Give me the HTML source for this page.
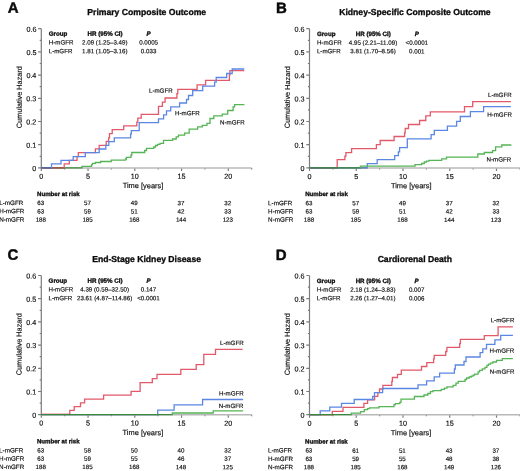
<!DOCTYPE html>
<html><head><meta charset="utf-8"><style>
html,body{margin:0;padding:0;background:#fff;overflow:hidden;}
svg{display:block;font-family:"Liberation Sans", sans-serif;}
text{fill:#0a0a0a;stroke:#0a0a0a;stroke-width:0.15px;}
text[font-weight=bold]{stroke-width:0.3px;}
</style></head><body>
<svg width="520" height="471" viewBox="0 0 520 471" text-rendering="geometricPrecision">
<g style="will-change:transform">

<g style="fill:#fff;stroke:none" font-size="6"><g transform="rotate(5 8 8)"><text x="8" y="8" style="fill:#fff;stroke:none">63</text></g><g transform="rotate(5 8 48)"><text x="8" y="48" style="fill:#fff;stroke:none">63</text></g><g transform="rotate(5 8 88)"><text x="8" y="88" style="fill:#fff;stroke:none">63</text></g><g transform="rotate(5 8 128)"><text x="8" y="128" style="fill:#fff;stroke:none">63</text></g><g transform="rotate(5 8 168)"><text x="8" y="168" style="fill:#fff;stroke:none">63</text></g><g transform="rotate(5 8 208)"><text x="8" y="208" style="fill:#fff;stroke:none">63</text></g><g transform="rotate(5 8 248)"><text x="8" y="248" style="fill:#fff;stroke:none">63</text></g><g transform="rotate(5 8 288)"><text x="8" y="288" style="fill:#fff;stroke:none">63</text></g><g transform="rotate(5 8 328)"><text x="8" y="328" style="fill:#fff;stroke:none">63</text></g><g transform="rotate(5 8 368)"><text x="8" y="368" style="fill:#fff;stroke:none">63</text></g><g transform="rotate(5 8 408)"><text x="8" y="408" style="fill:#fff;stroke:none">63</text></g><g transform="rotate(5 8 448)"><text x="8" y="448" style="fill:#fff;stroke:none">63</text></g><g transform="rotate(5 48 8)"><text x="48" y="8" style="fill:#fff;stroke:none">63</text></g><g transform="rotate(5 48 48)"><text x="48" y="48" style="fill:#fff;stroke:none">63</text></g><g transform="rotate(5 48 88)"><text x="48" y="88" style="fill:#fff;stroke:none">63</text></g><g transform="rotate(5 48 128)"><text x="48" y="128" style="fill:#fff;stroke:none">63</text></g><g transform="rotate(5 48 168)"><text x="48" y="168" style="fill:#fff;stroke:none">63</text></g><g transform="rotate(5 48 208)"><text x="48" y="208" style="fill:#fff;stroke:none">63</text></g><g transform="rotate(5 48 248)"><text x="48" y="248" style="fill:#fff;stroke:none">63</text></g><g transform="rotate(5 48 288)"><text x="48" y="288" style="fill:#fff;stroke:none">63</text></g><g transform="rotate(5 48 328)"><text x="48" y="328" style="fill:#fff;stroke:none">63</text></g><g transform="rotate(5 48 368)"><text x="48" y="368" style="fill:#fff;stroke:none">63</text></g><g transform="rotate(5 48 408)"><text x="48" y="408" style="fill:#fff;stroke:none">63</text></g><g transform="rotate(5 48 448)"><text x="48" y="448" style="fill:#fff;stroke:none">63</text></g><g transform="rotate(5 88 8)"><text x="88" y="8" style="fill:#fff;stroke:none">63</text></g><g transform="rotate(5 88 48)"><text x="88" y="48" style="fill:#fff;stroke:none">63</text></g><g transform="rotate(5 88 88)"><text x="88" y="88" style="fill:#fff;stroke:none">63</text></g><g transform="rotate(5 88 128)"><text x="88" y="128" style="fill:#fff;stroke:none">63</text></g><g transform="rotate(5 88 168)"><text x="88" y="168" style="fill:#fff;stroke:none">63</text></g><g transform="rotate(5 88 208)"><text x="88" y="208" style="fill:#fff;stroke:none">63</text></g><g transform="rotate(5 88 248)"><text x="88" y="248" style="fill:#fff;stroke:none">63</text></g><g transform="rotate(5 88 288)"><text x="88" y="288" style="fill:#fff;stroke:none">63</text></g><g transform="rotate(5 88 328)"><text x="88" y="328" style="fill:#fff;stroke:none">63</text></g><g transform="rotate(5 88 368)"><text x="88" y="368" style="fill:#fff;stroke:none">63</text></g><g transform="rotate(5 88 408)"><text x="88" y="408" style="fill:#fff;stroke:none">63</text></g><g transform="rotate(5 88 448)"><text x="88" y="448" style="fill:#fff;stroke:none">63</text></g><g transform="rotate(5 128 8)"><text x="128" y="8" style="fill:#fff;stroke:none">63</text></g><g transform="rotate(5 128 48)"><text x="128" y="48" style="fill:#fff;stroke:none">63</text></g><g transform="rotate(5 128 88)"><text x="128" y="88" style="fill:#fff;stroke:none">63</text></g><g transform="rotate(5 128 128)"><text x="128" y="128" style="fill:#fff;stroke:none">63</text></g><g transform="rotate(5 128 168)"><text x="128" y="168" style="fill:#fff;stroke:none">63</text></g><g transform="rotate(5 128 208)"><text x="128" y="208" style="fill:#fff;stroke:none">63</text></g><g transform="rotate(5 128 248)"><text x="128" y="248" style="fill:#fff;stroke:none">63</text></g><g transform="rotate(5 128 288)"><text x="128" y="288" style="fill:#fff;stroke:none">63</text></g><g transform="rotate(5 128 328)"><text x="128" y="328" style="fill:#fff;stroke:none">63</text></g><g transform="rotate(5 128 368)"><text x="128" y="368" style="fill:#fff;stroke:none">63</text></g><g transform="rotate(5 128 408)"><text x="128" y="408" style="fill:#fff;stroke:none">63</text></g><g transform="rotate(5 128 448)"><text x="128" y="448" style="fill:#fff;stroke:none">63</text></g><g transform="rotate(5 168 8)"><text x="168" y="8" style="fill:#fff;stroke:none">63</text></g><g transform="rotate(5 168 48)"><text x="168" y="48" style="fill:#fff;stroke:none">63</text></g><g transform="rotate(5 168 88)"><text x="168" y="88" style="fill:#fff;stroke:none">63</text></g><g transform="rotate(5 168 128)"><text x="168" y="128" style="fill:#fff;stroke:none">63</text></g><g transform="rotate(5 168 168)"><text x="168" y="168" style="fill:#fff;stroke:none">63</text></g><g transform="rotate(5 168 208)"><text x="168" y="208" style="fill:#fff;stroke:none">63</text></g><g transform="rotate(5 168 248)"><text x="168" y="248" style="fill:#fff;stroke:none">63</text></g><g transform="rotate(5 168 288)"><text x="168" y="288" style="fill:#fff;stroke:none">63</text></g><g transform="rotate(5 168 328)"><text x="168" y="328" style="fill:#fff;stroke:none">63</text></g><g transform="rotate(5 168 368)"><text x="168" y="368" style="fill:#fff;stroke:none">63</text></g><g transform="rotate(5 168 408)"><text x="168" y="408" style="fill:#fff;stroke:none">63</text></g><g transform="rotate(5 168 448)"><text x="168" y="448" style="fill:#fff;stroke:none">63</text></g><g transform="rotate(5 208 8)"><text x="208" y="8" style="fill:#fff;stroke:none">63</text></g><g transform="rotate(5 208 48)"><text x="208" y="48" style="fill:#fff;stroke:none">63</text></g><g transform="rotate(5 208 88)"><text x="208" y="88" style="fill:#fff;stroke:none">63</text></g><g transform="rotate(5 208 128)"><text x="208" y="128" style="fill:#fff;stroke:none">63</text></g><g transform="rotate(5 208 168)"><text x="208" y="168" style="fill:#fff;stroke:none">63</text></g><g transform="rotate(5 208 208)"><text x="208" y="208" style="fill:#fff;stroke:none">63</text></g><g transform="rotate(5 208 248)"><text x="208" y="248" style="fill:#fff;stroke:none">63</text></g><g transform="rotate(5 208 288)"><text x="208" y="288" style="fill:#fff;stroke:none">63</text></g><g transform="rotate(5 208 328)"><text x="208" y="328" style="fill:#fff;stroke:none">63</text></g><g transform="rotate(5 208 368)"><text x="208" y="368" style="fill:#fff;stroke:none">63</text></g><g transform="rotate(5 208 408)"><text x="208" y="408" style="fill:#fff;stroke:none">63</text></g><g transform="rotate(5 208 448)"><text x="208" y="448" style="fill:#fff;stroke:none">63</text></g><g transform="rotate(5 248 8)"><text x="248" y="8" style="fill:#fff;stroke:none">63</text></g><g transform="rotate(5 248 48)"><text x="248" y="48" style="fill:#fff;stroke:none">63</text></g><g transform="rotate(5 248 88)"><text x="248" y="88" style="fill:#fff;stroke:none">63</text></g><g transform="rotate(5 248 128)"><text x="248" y="128" style="fill:#fff;stroke:none">63</text></g><g transform="rotate(5 248 168)"><text x="248" y="168" style="fill:#fff;stroke:none">63</text></g><g transform="rotate(5 248 208)"><text x="248" y="208" style="fill:#fff;stroke:none">63</text></g><g transform="rotate(5 248 248)"><text x="248" y="248" style="fill:#fff;stroke:none">63</text></g><g transform="rotate(5 248 288)"><text x="248" y="288" style="fill:#fff;stroke:none">63</text></g><g transform="rotate(5 248 328)"><text x="248" y="328" style="fill:#fff;stroke:none">63</text></g><g transform="rotate(5 248 368)"><text x="248" y="368" style="fill:#fff;stroke:none">63</text></g><g transform="rotate(5 248 408)"><text x="248" y="408" style="fill:#fff;stroke:none">63</text></g><g transform="rotate(5 248 448)"><text x="248" y="448" style="fill:#fff;stroke:none">63</text></g><g transform="rotate(5 288 8)"><text x="288" y="8" style="fill:#fff;stroke:none">63</text></g><g transform="rotate(5 288 48)"><text x="288" y="48" style="fill:#fff;stroke:none">63</text></g><g transform="rotate(5 288 88)"><text x="288" y="88" style="fill:#fff;stroke:none">63</text></g><g transform="rotate(5 288 128)"><text x="288" y="128" style="fill:#fff;stroke:none">63</text></g><g transform="rotate(5 288 168)"><text x="288" y="168" style="fill:#fff;stroke:none">63</text></g><g transform="rotate(5 288 208)"><text x="288" y="208" style="fill:#fff;stroke:none">63</text></g><g transform="rotate(5 288 248)"><text x="288" y="248" style="fill:#fff;stroke:none">63</text></g><g transform="rotate(5 288 288)"><text x="288" y="288" style="fill:#fff;stroke:none">63</text></g><g transform="rotate(5 288 328)"><text x="288" y="328" style="fill:#fff;stroke:none">63</text></g><g transform="rotate(5 288 368)"><text x="288" y="368" style="fill:#fff;stroke:none">63</text></g><g transform="rotate(5 288 408)"><text x="288" y="408" style="fill:#fff;stroke:none">63</text></g><g transform="rotate(5 288 448)"><text x="288" y="448" style="fill:#fff;stroke:none">63</text></g><g transform="rotate(5 328 8)"><text x="328" y="8" style="fill:#fff;stroke:none">63</text></g><g transform="rotate(5 328 48)"><text x="328" y="48" style="fill:#fff;stroke:none">63</text></g><g transform="rotate(5 328 88)"><text x="328" y="88" style="fill:#fff;stroke:none">63</text></g><g transform="rotate(5 328 128)"><text x="328" y="128" style="fill:#fff;stroke:none">63</text></g><g transform="rotate(5 328 168)"><text x="328" y="168" style="fill:#fff;stroke:none">63</text></g><g transform="rotate(5 328 208)"><text x="328" y="208" style="fill:#fff;stroke:none">63</text></g><g transform="rotate(5 328 248)"><text x="328" y="248" style="fill:#fff;stroke:none">63</text></g><g transform="rotate(5 328 288)"><text x="328" y="288" style="fill:#fff;stroke:none">63</text></g><g transform="rotate(5 328 328)"><text x="328" y="328" style="fill:#fff;stroke:none">63</text></g><g transform="rotate(5 328 368)"><text x="328" y="368" style="fill:#fff;stroke:none">63</text></g><g transform="rotate(5 328 408)"><text x="328" y="408" style="fill:#fff;stroke:none">63</text></g><g transform="rotate(5 328 448)"><text x="328" y="448" style="fill:#fff;stroke:none">63</text></g><g transform="rotate(5 368 8)"><text x="368" y="8" style="fill:#fff;stroke:none">63</text></g><g transform="rotate(5 368 48)"><text x="368" y="48" style="fill:#fff;stroke:none">63</text></g><g transform="rotate(5 368 88)"><text x="368" y="88" style="fill:#fff;stroke:none">63</text></g><g transform="rotate(5 368 128)"><text x="368" y="128" style="fill:#fff;stroke:none">63</text></g><g transform="rotate(5 368 168)"><text x="368" y="168" style="fill:#fff;stroke:none">63</text></g><g transform="rotate(5 368 208)"><text x="368" y="208" style="fill:#fff;stroke:none">63</text></g><g transform="rotate(5 368 248)"><text x="368" y="248" style="fill:#fff;stroke:none">63</text></g><g transform="rotate(5 368 288)"><text x="368" y="288" style="fill:#fff;stroke:none">63</text></g><g transform="rotate(5 368 328)"><text x="368" y="328" style="fill:#fff;stroke:none">63</text></g><g transform="rotate(5 368 368)"><text x="368" y="368" style="fill:#fff;stroke:none">63</text></g><g transform="rotate(5 368 408)"><text x="368" y="408" style="fill:#fff;stroke:none">63</text></g><g transform="rotate(5 368 448)"><text x="368" y="448" style="fill:#fff;stroke:none">63</text></g><g transform="rotate(5 408 8)"><text x="408" y="8" style="fill:#fff;stroke:none">63</text></g><g transform="rotate(5 408 48)"><text x="408" y="48" style="fill:#fff;stroke:none">63</text></g><g transform="rotate(5 408 88)"><text x="408" y="88" style="fill:#fff;stroke:none">63</text></g><g transform="rotate(5 408 128)"><text x="408" y="128" style="fill:#fff;stroke:none">63</text></g><g transform="rotate(5 408 168)"><text x="408" y="168" style="fill:#fff;stroke:none">63</text></g><g transform="rotate(5 408 208)"><text x="408" y="208" style="fill:#fff;stroke:none">63</text></g><g transform="rotate(5 408 248)"><text x="408" y="248" style="fill:#fff;stroke:none">63</text></g><g transform="rotate(5 408 288)"><text x="408" y="288" style="fill:#fff;stroke:none">63</text></g><g transform="rotate(5 408 328)"><text x="408" y="328" style="fill:#fff;stroke:none">63</text></g><g transform="rotate(5 408 368)"><text x="408" y="368" style="fill:#fff;stroke:none">63</text></g><g transform="rotate(5 408 408)"><text x="408" y="408" style="fill:#fff;stroke:none">63</text></g><g transform="rotate(5 408 448)"><text x="408" y="448" style="fill:#fff;stroke:none">63</text></g><g transform="rotate(5 448 8)"><text x="448" y="8" style="fill:#fff;stroke:none">63</text></g><g transform="rotate(5 448 48)"><text x="448" y="48" style="fill:#fff;stroke:none">63</text></g><g transform="rotate(5 448 88)"><text x="448" y="88" style="fill:#fff;stroke:none">63</text></g><g transform="rotate(5 448 128)"><text x="448" y="128" style="fill:#fff;stroke:none">63</text></g><g transform="rotate(5 448 168)"><text x="448" y="168" style="fill:#fff;stroke:none">63</text></g><g transform="rotate(5 448 208)"><text x="448" y="208" style="fill:#fff;stroke:none">63</text></g><g transform="rotate(5 448 248)"><text x="448" y="248" style="fill:#fff;stroke:none">63</text></g><g transform="rotate(5 448 288)"><text x="448" y="288" style="fill:#fff;stroke:none">63</text></g><g transform="rotate(5 448 328)"><text x="448" y="328" style="fill:#fff;stroke:none">63</text></g><g transform="rotate(5 448 368)"><text x="448" y="368" style="fill:#fff;stroke:none">63</text></g><g transform="rotate(5 448 408)"><text x="448" y="408" style="fill:#fff;stroke:none">63</text></g><g transform="rotate(5 448 448)"><text x="448" y="448" style="fill:#fff;stroke:none">63</text></g><g transform="rotate(5 488 8)"><text x="488" y="8" style="fill:#fff;stroke:none">63</text></g><g transform="rotate(5 488 48)"><text x="488" y="48" style="fill:#fff;stroke:none">63</text></g><g transform="rotate(5 488 88)"><text x="488" y="88" style="fill:#fff;stroke:none">63</text></g><g transform="rotate(5 488 128)"><text x="488" y="128" style="fill:#fff;stroke:none">63</text></g><g transform="rotate(5 488 168)"><text x="488" y="168" style="fill:#fff;stroke:none">63</text></g><g transform="rotate(5 488 208)"><text x="488" y="208" style="fill:#fff;stroke:none">63</text></g><g transform="rotate(5 488 248)"><text x="488" y="248" style="fill:#fff;stroke:none">63</text></g><g transform="rotate(5 488 288)"><text x="488" y="288" style="fill:#fff;stroke:none">63</text></g><g transform="rotate(5 488 328)"><text x="488" y="328" style="fill:#fff;stroke:none">63</text></g><g transform="rotate(5 488 368)"><text x="488" y="368" style="fill:#fff;stroke:none">63</text></g><g transform="rotate(5 488 408)"><text x="488" y="408" style="fill:#fff;stroke:none">63</text></g><g transform="rotate(5 488 448)"><text x="488" y="448" style="fill:#fff;stroke:none">63</text></g></g>
<path d="M41.30 28.70V167.90M38.10 167.90H41.30M39.70 156.30H41.30M38.10 144.70H41.30M39.70 133.10H41.30M38.10 121.50H41.30M39.70 109.90H41.30M38.10 98.30H41.30M39.70 86.70H41.30M38.10 75.10H41.30M39.70 63.50H41.30M38.10 51.90H41.30M39.70 40.30H41.30M38.10 28.70H41.30M41.30 167.90V170.90M64.67 167.90V169.50M88.05 167.90V170.90M111.42 167.90V169.50M134.80 167.90V170.90M158.18 167.90V169.50M181.55 167.90V170.90M204.93 167.90V169.50M228.30 167.90V170.90M251.68 167.90V169.50" stroke="#7c7c7c" stroke-width="1.2" fill="none"/>
<path d="M41.30 167.90H251.68" stroke="#b8b8b8" stroke-width="1.5" fill="none"/>
<path d="M41.30 167.90H82.60" stroke="#3b8a3b" stroke-width="1.3" fill="none"/>
<path d="M81.90 167.90V166.30H91.50V164.70H92.50V163.30H95.40V162.50H100.70V161.50H111.25V160.20H125.50V159.00H126.40V157.30H131.00V155.00H131.80V152.50H144.70V150.50H146.50V148.40H153.80V147.00H155.50V145.50H157.50V144.30H160.00V143.30H163.50V140.30H172.60V139.00H176.20V136.90H178.50V135.10H184.60V133.10H189.20V129.20H197.70V126.90H202.30V125.40H206.90V123.40H210.00V118.50H213.80V115.80H222.30V114.20H227.70V110.50H233.10V106.90H234.60V104.60H244.40V104.60" stroke="#55b455" stroke-width="1.3" fill="none"/>
<path d="M41.30 167.90H64.90" stroke="#b0434e" stroke-width="1.3" fill="none"/>
<path d="M64.20 167.90V163.90H69.30V160.30H77.00V156.60H78.30V152.70H95.40V148.80H99.20V145.40H106.20V141.40H108.60V137.80H109.50V133.70H112.20V129.60H123.70V125.90H136.80V122.10H137.80V118.10H141.20V114.40H158.50V106.30H162.40V102.20H165.10V98.00H176.90V93.70H177.80V89.40H197.10V84.90H205.60V80.30H229.40V74.80H229.90V70.60H244.30V70.60" stroke="#e2596a" stroke-width="1.3" fill="none"/>
<path d="M41.30 167.90H52.20" stroke="#4868b8" stroke-width="1.3" fill="none"/>
<path d="M51.50 167.90V163.90H61.00V160.30H73.20V156.60H85.30V152.70H99.20V149.00H105.80V145.30H108.80V141.60H114.30V137.80H130.60V134.10H131.30V130.60H139.20V122.60H158.50V118.80H163.60V114.90H166.50V110.90H170.70V106.80H179.60V103.00H186.50V99.50H188.50V95.50H192.70V90.70H202.70V86.20H214.60V82.20H216.20V77.50H226.70V73.50H232.20V69.00H244.30V69.00" stroke="#5b87e4" stroke-width="1.3" fill="none"/>
<path d="M309.50 28.70V167.90M306.30 167.90H309.50M307.90 156.30H309.50M306.30 144.70H309.50M307.90 133.10H309.50M306.30 121.50H309.50M307.90 109.90H309.50M306.30 98.30H309.50M307.90 86.70H309.50M306.30 75.10H309.50M307.90 63.50H309.50M306.30 51.90H309.50M307.90 40.30H309.50M306.30 28.70H309.50M309.50 167.90V170.90M332.88 167.90V169.50M356.25 167.90V170.90M379.62 167.90V169.50M403.00 167.90V170.90M426.38 167.90V169.50M449.75 167.90V170.90M473.12 167.90V169.50M496.50 167.90V170.90M519.88 167.90V169.50" stroke="#7c7c7c" stroke-width="1.2" fill="none"/>
<path d="M309.50 167.90H519.88" stroke="#b8b8b8" stroke-width="1.5" fill="none"/>
<path d="M309.50 167.90H337.90" stroke="#b0434e" stroke-width="1.3" fill="none"/>
<path d="M337.20 167.90V159.60H344.90V156.20H345.90V152.70H351.60V148.60H376.40V144.60H380.20V140.50H394.10V136.50H404.60V132.80H405.20V128.50H408.50V124.50H419.60V120.50H425.80V115.80H430.30V111.80H464.50V106.70H472.70V101.70H510.90V101.70" stroke="#e2596a" stroke-width="1.3" fill="none"/>
<path d="M309.50 167.90H368.00" stroke="#4868b8" stroke-width="1.3" fill="none"/>
<path d="M367.30 167.90V163.60H377.20V159.70H394.70V155.60H398.40V151.90H399.60V147.60H407.30V138.90H431.10V134.60H434.30V130.30H447.40V126.10H456.60V121.30H460.30V116.50H470.40V111.60H483.60V106.60H510.90V106.60" stroke="#5b87e4" stroke-width="1.3" fill="none"/>
<path d="M309.50 167.90H361.10" stroke="#3b8a3b" stroke-width="1.3" fill="none"/>
<path d="M360.40 167.90V166.20H415.00V164.60H421.70V163.50H424.30V162.00H426.40V161.20H429.00V160.40H441.70V158.80H446.50V157.20H477.80V154.00H484.30V152.50H492.60V150.60H495.60V146.90H501.80V145.00H511.40V145.00" stroke="#55b455" stroke-width="1.3" fill="none"/>
<path d="M41.30 275.50V414.70M38.10 414.70H41.30M39.70 403.10H41.30M38.10 391.50H41.30M39.70 379.90H41.30M38.10 368.30H41.30M39.70 356.70H41.30M38.10 345.10H41.30M39.70 333.50H41.30M38.10 321.90H41.30M39.70 310.30H41.30M38.10 298.70H41.30M39.70 287.10H41.30M38.10 275.50H41.30M41.30 414.70V417.70M64.67 414.70V416.30M88.05 414.70V417.70M111.42 414.70V416.30M134.80 414.70V417.70M158.18 414.70V416.30M181.55 414.70V417.70M204.93 414.70V416.30M228.30 414.70V417.70M251.68 414.70V416.30" stroke="#7c7c7c" stroke-width="1.2" fill="none"/>
<path d="M41.30 414.70H251.68" stroke="#b8b8b8" stroke-width="1.5" fill="none"/>
<path d="M41.30 414.25H70.50" stroke="#e2596a" stroke-width="1.3" fill="none"/>
<path d="M69.80 414.70V410.40H74.20V406.70H80.50V402.90H84.60V399.10H103.60V395.10H131.10V391.30H140.10V382.60H152.30V378.60H157.00V374.30H180.80V369.40H196.20V364.60H203.80V354.30H215.50V349.30H242.60V349.30" stroke="#e2596a" stroke-width="1.3" fill="none"/>
<path d="M41.30 414.70H158.40" stroke="#4868b8" stroke-width="1.3" fill="none"/>
<path d="M157.70 414.70V410.10H174.10V404.80H202.60V399.50H243.10V399.50" stroke="#5b87e4" stroke-width="1.3" fill="none"/>
<path d="M41.30 414.70H173.00" stroke="#3b8a3b" stroke-width="1.3" fill="none"/>
<path d="M172.30 414.70V413.00H213.20V410.90H243.10V410.90" stroke="#55b455" stroke-width="1.3" fill="none"/>
<path d="M309.50 275.50V414.70M306.30 414.70H309.50M307.90 403.10H309.50M306.30 391.50H309.50M307.90 379.90H309.50M306.30 368.30H309.50M307.90 356.70H309.50M306.30 345.10H309.50M307.90 333.50H309.50M306.30 321.90H309.50M307.90 310.30H309.50M306.30 298.70H309.50M307.90 287.10H309.50M306.30 275.50H309.50M309.50 414.70V417.70M332.88 414.70V416.30M356.25 414.70V417.70M379.62 414.70V416.30M403.00 414.70V417.70M426.38 414.70V416.30M449.75 414.70V417.70M473.12 414.70V416.30M496.50 414.70V417.70M519.88 414.70V416.30" stroke="#7c7c7c" stroke-width="1.2" fill="none"/>
<path d="M309.50 414.70H519.88" stroke="#b8b8b8" stroke-width="1.5" fill="none"/>
<path d="M309.50 414.70H333.00" stroke="#b0434e" stroke-width="1.3" fill="none"/>
<path d="M332.30 414.70V411.30H343.00V407.30H363.90V403.40H367.60V399.80H374.60V396.30H377.80V392.60H379.50V389.00H382.90V385.30H391.80V381.30H392.40V377.50H397.50V374.30H401.30V370.20H421.50V366.50H426.80V362.70H433.60V358.90H434.20V355.30H445.70V351.50H446.90V347.40H459.70V343.60H460.40V339.40H484.30V335.70H498.10V326.80H512.90V326.80" stroke="#e2596a" stroke-width="1.3" fill="none"/>
<path d="M309.50 414.70H320.90" stroke="#4868b8" stroke-width="1.3" fill="none"/>
<path d="M320.20 414.70V410.80H329.80V407.10H341.50V403.30H354.20V399.50H372.70V396.50H374.50V392.60H382.60V388.50H418.00V384.80H426.60V380.80H434.20V376.90H439.60V373.10H454.40V369.00H455.30V365.00H464.00V361.50H466.00V357.00H480.10V352.70H482.80V348.80H486.50V344.40H494.90V339.80H500.70V335.40H512.90V335.40" stroke="#5b87e4" stroke-width="1.3" fill="none"/>
<path d="M309.50 414.70H352.00" stroke="#3b8a3b" stroke-width="1.3" fill="none"/>
<path d="M351.30 414.70V413.10H360.60V411.70H364.30V409.70H367.50V408.60H369.50V407.80H379.00V406.60H394.00V404.60H395.40V403.60H399.80V402.30H401.00V399.10H414.40V396.50H424.00V395.00H427.80V393.50H430.40V391.60H433.00V390.70H441.20V389.40H444.40V388.20H447.00V386.90H453.20V385.30H456.00V383.20H458.20V381.30H465.00V379.50H466.60V378.00H469.20V377.00H471.20V376.20H473.10V375.20H474.60V374.20H478.10V371.90H479.60V370.40H482.30V368.80H485.00V367.30H486.90V365.40H488.50V364.20H490.50V363.10H492.80V362.00H496.50V360.40H502.30V358.60H512.90V358.60" stroke="#55b455" stroke-width="1.3" fill="none"/>
<g transform="rotate(0.03 260 235)">
<text x="7.60" y="12.90" font-size="15.0" font-weight="bold" style="stroke-width:0.45px">A</text>
<text x="146.60" y="15.00" font-size="8.65" text-anchor="middle" font-weight="bold">Primary Composite Outcome</text>
<text x="48.60" y="35.90" font-size="6.2" font-weight="bold">Group</text>
<text x="105.00" y="35.90" font-size="6.2" text-anchor="middle" font-weight="bold">HR (95% CI)</text>
<text x="148.50" y="35.90" font-size="6.2" text-anchor="middle" font-weight="bold" font-style="italic">P</text>
<text x="48.60" y="44.60" font-size="6.2">H-mGFR</text>
<text x="104.70" y="44.60" font-size="6.2" text-anchor="middle">2.09 (1.25–3.49)</text>
<text x="148.50" y="44.60" font-size="6.2" text-anchor="middle">0.0005</text>
<text x="48.60" y="53.30" font-size="6.2">L-mGFR</text>
<text x="104.70" y="53.30" font-size="6.2" text-anchor="middle">1.81 (1.05–3.16)</text>
<text x="148.50" y="53.30" font-size="6.2" text-anchor="middle">0.033</text>
<text x="148.90" y="92.80" font-size="6.2">L-mGFR</text>
<text x="174.90" y="115.40" font-size="6.2">H-mGFR</text>
<text x="220.00" y="124.50" font-size="6.2">N-mGFR</text>
<text x="36.30" y="171.00" font-size="7.2" text-anchor="end">0</text>
<text x="36.30" y="147.80" font-size="7.2" text-anchor="end">0.1</text>
<text x="36.30" y="124.60" font-size="7.2" text-anchor="end">0.2</text>
<text x="36.30" y="101.40" font-size="7.2" text-anchor="end">0.3</text>
<text x="36.30" y="78.20" font-size="7.2" text-anchor="end">0.4</text>
<text x="36.30" y="55.00" font-size="7.2" text-anchor="end">0.5</text>
<text x="36.30" y="31.80" font-size="7.2" text-anchor="end">0.6</text>
<text x="41.30" y="178.90" font-size="7.2" text-anchor="middle">0</text>
<text x="88.05" y="178.90" font-size="7.2" text-anchor="middle">5</text>
<text x="134.80" y="178.90" font-size="7.2" text-anchor="middle">10</text>
<text x="181.55" y="178.90" font-size="7.2" text-anchor="middle">15</text>
<text x="228.30" y="178.90" font-size="7.2" text-anchor="middle">20</text>
<text x="143.00" y="188.20" font-size="7.45" text-anchor="middle">Time [years]</text>
<text x="0" y="0" font-size="7.3" text-anchor="middle" transform="translate(21.60,97.30) rotate(-90)">Cumulative Hazard</text>
<text x="37.00" y="196.00" font-size="6.1" font-weight="bold">Number at risk</text>
<text x="-0.80" y="205.20" font-size="6.3">L-mGFR</text>
<text x="40.80" y="205.20" font-size="6.2" text-anchor="middle">63</text>
<text x="87.55" y="205.20" font-size="6.2" text-anchor="middle">57</text>
<text x="134.30" y="205.20" font-size="6.2" text-anchor="middle">49</text>
<text x="181.05" y="205.20" font-size="6.2" text-anchor="middle">37</text>
<text x="227.80" y="205.20" font-size="6.2" text-anchor="middle">32</text>
<text x="-0.80" y="213.50" font-size="6.3">H-mGFR</text>
<text x="40.80" y="213.50" font-size="6.2" text-anchor="middle">63</text>
<text x="87.55" y="213.50" font-size="6.2" text-anchor="middle">59</text>
<text x="134.30" y="213.50" font-size="6.2" text-anchor="middle">51</text>
<text x="181.05" y="213.50" font-size="6.2" text-anchor="middle">42</text>
<text x="227.80" y="213.50" font-size="6.2" text-anchor="middle">33</text>
<text x="-0.80" y="221.80" font-size="6.3">N-mGFR</text>
<text x="40.80" y="221.80" font-size="6.2" text-anchor="middle">188</text>
<text x="87.55" y="221.80" font-size="6.2" text-anchor="middle">185</text>
<text x="134.30" y="221.80" font-size="6.2" text-anchor="middle">168</text>
<text x="181.05" y="221.80" font-size="6.2" text-anchor="middle">144</text>
<text x="227.80" y="221.80" font-size="6.2" text-anchor="middle">123</text>
<text x="275.80" y="12.90" font-size="15.0" font-weight="bold" style="stroke-width:0.45px">B</text>
<text x="414.80" y="15.00" font-size="8.65" text-anchor="middle" font-weight="bold">Kidney-Specific Composite Outcome</text>
<text x="316.80" y="35.90" font-size="6.2" font-weight="bold">Group</text>
<text x="373.20" y="35.90" font-size="6.2" text-anchor="middle" font-weight="bold">HR (95% CI)</text>
<text x="416.70" y="35.90" font-size="6.2" text-anchor="middle" font-weight="bold" font-style="italic">P</text>
<text x="316.80" y="44.60" font-size="6.2">H-mGFR</text>
<text x="372.90" y="44.60" font-size="6.2" text-anchor="middle">4.95 (2.21–11.09)</text>
<text x="416.70" y="44.60" font-size="6.2" text-anchor="middle">&lt;0.0001</text>
<text x="316.80" y="53.30" font-size="6.2">L-mGFR</text>
<text x="372.90" y="53.30" font-size="6.2" text-anchor="middle">3.81 (1.70–8.56)</text>
<text x="416.70" y="53.30" font-size="6.2" text-anchor="middle">0.001</text>
<text x="487.90" y="96.80" font-size="6.2">L-mGFR</text>
<text x="487.10" y="116.70" font-size="6.2">H-mGFR</text>
<text x="486.50" y="161.50" font-size="6.2">N-mGFR</text>
<text x="304.50" y="171.00" font-size="7.2" text-anchor="end">0</text>
<text x="304.50" y="147.80" font-size="7.2" text-anchor="end">0.1</text>
<text x="304.50" y="124.60" font-size="7.2" text-anchor="end">0.2</text>
<text x="304.50" y="101.40" font-size="7.2" text-anchor="end">0.3</text>
<text x="304.50" y="78.20" font-size="7.2" text-anchor="end">0.4</text>
<text x="304.50" y="55.00" font-size="7.2" text-anchor="end">0.5</text>
<text x="304.50" y="31.80" font-size="7.2" text-anchor="end">0.6</text>
<text x="309.50" y="178.90" font-size="7.2" text-anchor="middle">0</text>
<text x="356.25" y="178.90" font-size="7.2" text-anchor="middle">5</text>
<text x="403.00" y="178.90" font-size="7.2" text-anchor="middle">10</text>
<text x="449.75" y="178.90" font-size="7.2" text-anchor="middle">15</text>
<text x="496.50" y="178.90" font-size="7.2" text-anchor="middle">20</text>
<text x="411.20" y="188.20" font-size="7.45" text-anchor="middle">Time [years]</text>
<text x="0" y="0" font-size="7.3" text-anchor="middle" transform="translate(289.80,97.30) rotate(-90)">Cumulative Hazard</text>
<text x="305.20" y="196.00" font-size="6.1" font-weight="bold">Number at risk</text>
<text x="268.10" y="205.20" font-size="6.3">L-mGFR</text>
<text x="309.00" y="205.20" font-size="6.2" text-anchor="middle">63</text>
<text x="355.75" y="205.20" font-size="6.2" text-anchor="middle">57</text>
<text x="402.50" y="205.20" font-size="6.2" text-anchor="middle">49</text>
<text x="449.25" y="205.20" font-size="6.2" text-anchor="middle">37</text>
<text x="496.00" y="205.20" font-size="6.2" text-anchor="middle">32</text>
<text x="268.10" y="213.50" font-size="6.3">H-mGFR</text>
<text x="309.00" y="213.50" font-size="6.2" text-anchor="middle">63</text>
<text x="355.75" y="213.50" font-size="6.2" text-anchor="middle">59</text>
<text x="402.50" y="213.50" font-size="6.2" text-anchor="middle">51</text>
<text x="449.25" y="213.50" font-size="6.2" text-anchor="middle">42</text>
<text x="496.00" y="213.50" font-size="6.2" text-anchor="middle">33</text>
<text x="268.10" y="221.80" font-size="6.3">N-mGFR</text>
<text x="309.00" y="221.80" font-size="6.2" text-anchor="middle">188</text>
<text x="355.75" y="221.80" font-size="6.2" text-anchor="middle">185</text>
<text x="402.50" y="221.80" font-size="6.2" text-anchor="middle">168</text>
<text x="449.25" y="221.80" font-size="6.2" text-anchor="middle">144</text>
<text x="496.00" y="221.80" font-size="6.2" text-anchor="middle">123</text>
<text x="7.60" y="259.90" font-size="15.0" font-weight="bold" style="stroke-width:0.45px">C</text>
<text x="146.60" y="262.00" font-size="8.65" text-anchor="middle" font-weight="bold">End-Stage Kidney Disease</text>
<text x="48.60" y="282.90" font-size="6.2" font-weight="bold">Group</text>
<text x="105.00" y="282.90" font-size="6.2" text-anchor="middle" font-weight="bold">HR (95% CI)</text>
<text x="148.50" y="282.90" font-size="6.2" text-anchor="middle" font-weight="bold" font-style="italic">P</text>
<text x="48.60" y="291.60" font-size="6.2">H-mGFR</text>
<text x="104.70" y="291.60" font-size="6.2" text-anchor="middle">4.39 (0.59–32.50)</text>
<text x="148.50" y="291.60" font-size="6.2" text-anchor="middle">0.147</text>
<text x="48.60" y="300.30" font-size="6.2">L-mGFR</text>
<text x="104.70" y="300.30" font-size="6.2" text-anchor="middle">23.61 (4.87–114.86)</text>
<text x="148.50" y="300.30" font-size="6.2" text-anchor="middle">&lt;0.0001</text>
<text x="220.00" y="345.00" font-size="6.2">L-mGFR</text>
<text x="219.10" y="395.60" font-size="6.2">H-mGFR</text>
<text x="218.80" y="408.10" font-size="6.2">N-mGFR</text>
<text x="36.30" y="417.80" font-size="7.2" text-anchor="end">0</text>
<text x="36.30" y="394.60" font-size="7.2" text-anchor="end">0.1</text>
<text x="36.30" y="371.40" font-size="7.2" text-anchor="end">0.2</text>
<text x="36.30" y="348.20" font-size="7.2" text-anchor="end">0.3</text>
<text x="36.30" y="325.00" font-size="7.2" text-anchor="end">0.4</text>
<text x="36.30" y="301.80" font-size="7.2" text-anchor="end">0.5</text>
<text x="36.30" y="278.60" font-size="7.2" text-anchor="end">0.6</text>
<text x="41.30" y="425.70" font-size="7.2" text-anchor="middle">0</text>
<text x="88.05" y="425.70" font-size="7.2" text-anchor="middle">5</text>
<text x="134.80" y="425.70" font-size="7.2" text-anchor="middle">10</text>
<text x="181.55" y="425.70" font-size="7.2" text-anchor="middle">15</text>
<text x="228.30" y="425.70" font-size="7.2" text-anchor="middle">20</text>
<text x="143.00" y="435.20" font-size="7.45" text-anchor="middle">Time [years]</text>
<text x="0" y="0" font-size="7.3" text-anchor="middle" transform="translate(21.60,344.30) rotate(-90)">Cumulative Hazard</text>
<text x="37.00" y="443.40" font-size="6.1" font-weight="bold">Number at risk</text>
<text x="-0.80" y="452.60" font-size="6.3">L-mGFR</text>
<text x="40.80" y="452.60" font-size="6.2" text-anchor="middle">63</text>
<text x="87.55" y="452.60" font-size="6.2" text-anchor="middle">58</text>
<text x="134.30" y="452.60" font-size="6.2" text-anchor="middle">50</text>
<text x="181.05" y="452.60" font-size="6.2" text-anchor="middle">40</text>
<text x="227.80" y="452.60" font-size="6.2" text-anchor="middle">32</text>
<text x="-0.80" y="460.90" font-size="6.3">H-mGFR</text>
<text x="40.80" y="460.90" font-size="6.2" text-anchor="middle">63</text>
<text x="87.55" y="460.90" font-size="6.2" text-anchor="middle">59</text>
<text x="134.30" y="460.90" font-size="6.2" text-anchor="middle">55</text>
<text x="181.05" y="460.90" font-size="6.2" text-anchor="middle">46</text>
<text x="227.80" y="460.90" font-size="6.2" text-anchor="middle">37</text>
<text x="-0.80" y="469.20" font-size="6.3">N-mGFR</text>
<text x="40.80" y="469.20" font-size="6.2" text-anchor="middle">188</text>
<text x="87.55" y="469.20" font-size="6.2" text-anchor="middle">185</text>
<text x="134.30" y="469.20" font-size="6.2" text-anchor="middle">168</text>
<text x="181.05" y="469.20" font-size="6.2" text-anchor="middle">148</text>
<text x="227.80" y="469.20" font-size="6.2" text-anchor="middle">125</text>
<text x="275.80" y="259.90" font-size="15.0" font-weight="bold" style="stroke-width:0.45px">D</text>
<text x="414.80" y="262.00" font-size="8.65" text-anchor="middle" font-weight="bold">Cardiorenal Death</text>
<text x="316.80" y="282.90" font-size="6.2" font-weight="bold">Group</text>
<text x="373.20" y="282.90" font-size="6.2" text-anchor="middle" font-weight="bold">HR (95% CI)</text>
<text x="416.70" y="282.90" font-size="6.2" text-anchor="middle" font-weight="bold" font-style="italic">P</text>
<text x="316.80" y="291.60" font-size="6.2">H-mGFR</text>
<text x="372.90" y="291.60" font-size="6.2" text-anchor="middle">2.18 (1.24–3.83)</text>
<text x="416.70" y="291.60" font-size="6.2" text-anchor="middle">0.007</text>
<text x="316.80" y="300.30" font-size="6.2">L-mGFR</text>
<text x="372.90" y="300.30" font-size="6.2" text-anchor="middle">2.26 (1.27–4.01)</text>
<text x="416.70" y="300.30" font-size="6.2" text-anchor="middle">0.006</text>
<text x="490.70" y="322.10" font-size="6.2">L-mGFR</text>
<text x="489.60" y="352.70" font-size="6.2">H-mGFR</text>
<text x="489.90" y="373.70" font-size="6.2">N-mGFR</text>
<text x="304.50" y="417.80" font-size="7.2" text-anchor="end">0</text>
<text x="304.50" y="394.60" font-size="7.2" text-anchor="end">0.1</text>
<text x="304.50" y="371.40" font-size="7.2" text-anchor="end">0.2</text>
<text x="304.50" y="348.20" font-size="7.2" text-anchor="end">0.3</text>
<text x="304.50" y="325.00" font-size="7.2" text-anchor="end">0.4</text>
<text x="304.50" y="301.80" font-size="7.2" text-anchor="end">0.5</text>
<text x="304.50" y="278.60" font-size="7.2" text-anchor="end">0.6</text>
<text x="309.50" y="425.70" font-size="7.2" text-anchor="middle">0</text>
<text x="356.25" y="425.70" font-size="7.2" text-anchor="middle">5</text>
<text x="403.00" y="425.70" font-size="7.2" text-anchor="middle">10</text>
<text x="449.75" y="425.70" font-size="7.2" text-anchor="middle">15</text>
<text x="496.50" y="425.70" font-size="7.2" text-anchor="middle">20</text>
<text x="411.20" y="435.20" font-size="7.45" text-anchor="middle">Time [years]</text>
<text x="0" y="0" font-size="7.3" text-anchor="middle" transform="translate(289.80,344.30) rotate(-90)">Cumulative Hazard</text>
<text x="305.20" y="443.40" font-size="6.1" font-weight="bold">Number at risk</text>
<text x="268.10" y="452.60" font-size="6.3">L-mGFR</text>
<text x="309.00" y="452.60" font-size="6.2" text-anchor="middle">63</text>
<text x="355.75" y="452.60" font-size="6.2" text-anchor="middle">61</text>
<text x="402.50" y="452.60" font-size="6.2" text-anchor="middle">51</text>
<text x="449.25" y="452.60" font-size="6.2" text-anchor="middle">43</text>
<text x="496.00" y="452.60" font-size="6.2" text-anchor="middle">37</text>
<text x="268.10" y="460.90" font-size="6.3">H-mGFR</text>
<text x="309.00" y="460.90" font-size="6.2" text-anchor="middle">63</text>
<text x="355.75" y="460.90" font-size="6.2" text-anchor="middle">59</text>
<text x="402.50" y="460.90" font-size="6.2" text-anchor="middle">55</text>
<text x="449.25" y="460.90" font-size="6.2" text-anchor="middle">48</text>
<text x="496.00" y="460.90" font-size="6.2" text-anchor="middle">38</text>
<text x="268.10" y="469.20" font-size="6.3">N-mGFR</text>
<text x="309.00" y="469.20" font-size="6.2" text-anchor="middle">188</text>
<text x="355.75" y="469.20" font-size="6.2" text-anchor="middle">185</text>
<text x="402.50" y="469.20" font-size="6.2" text-anchor="middle">168</text>
<text x="449.25" y="469.20" font-size="6.2" text-anchor="middle">149</text>
<text x="496.00" y="469.20" font-size="6.2" text-anchor="middle">126</text>
</g>
</g>
</svg></body></html>
